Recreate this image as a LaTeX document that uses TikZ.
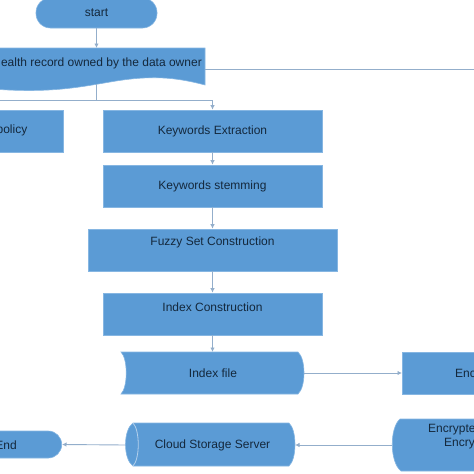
\documentclass[tikz,border=0pt]{standalone}
\usepackage{fontspec}
\setmainfont{Liberation Sans}
\usetikzlibrary{arrows.meta}
\definecolor{shapefill}{HTML}{5B9BD5}
\definecolor{shapeedge}{HTML}{86B6E2}
\definecolor{linecol}{HTML}{93AECB}
\definecolor{txtcol}{HTML}{14283C}
\definecolor{innerarc}{HTML}{B3D0EC}
\begin{document}
\begin{tikzpicture}[x=1pt,y=-1pt,
  every node/.style={font=\fontsize{12}{14}\selectfont, text=txtcol},
  box/.style={rectangle, fill=shapefill, draw=shapeedge, line width=0.6pt, inner sep=0pt},
  lbl/.style={inner sep=0pt},
  conn/.style={draw=linecol, line width=0.9pt},
  arr/.style={conn, -{Latex[length=4.5pt,width=4.5pt]}},
  shapepath/.style={fill=shapefill, draw=shapeedge, line width=0.6pt}]
\useasboundingbox (0,0) rectangle (474,474);

% start
\node[box, rounded corners=14.5pt, minimum width=121pt, minimum height=30pt] (start) at (96.5,13) {start};

% document shape
\path[shapepath] (-20,48) -- (205,48) -- (205,85)
  .. controls (175,77) and (150,75) .. (110,82)
  .. controls (75,88) and (45,94) .. (-20,88) -- cycle;
\node[lbl, anchor=east] (doc) at (202,63) {ealth record owned by the data owner};
\coordinate (docT) at (96.5,48);
\coordinate (docB) at (96.5,84);
\coordinate (docR) at (205,69);
\coordinate (rightend) at (480,69);
\coordinate (split) at (96.5,100);
\coordinate (leftend) at (-5,100);

% policy
\node[box, minimum width=93pt, minimum height=42pt] (policybox) at (16.5,131) {};
\node[lbl, anchor=east] (policy) at (27.5,130) {policy};

% main column
\node[box, minimum width=219pt, minimum height=42pt] (ke) at (212.5,131) {Keywords Extraction};
\node[box, minimum width=219pt, minimum height=42pt] (ks) at (212.5,186) {Keywords stemming};
\node[box, minimum width=249pt, minimum height=42pt] (fz) at (212.5,250) {};
\node[lbl] (fzt) at (212.5,242) {Fuzzy Set Construction};
\node[box, minimum width=219pt, minimum height=42pt] (ic) at (212.5,314) {};
\node[lbl] (ict) at (212.5,307) {Index Construction};

% index file (stored data)
\path[shapepath] (121,352) -- (298,352)
  .. controls (306,359) and (306,387) .. (298,394)
  -- (121,394)
  .. controls (128,387) and (128,359) .. (121,352) -- cycle;
\node[lbl] (idx) at (213,373) {Index file};
\coordinate (idxT) at (212.5,352);
\coordinate (idxR) at (304,373);

% Enc box
\node[box, minimum width=90pt, minimum height=42pt, anchor=west] (encbox) at (402,373) {};
\node[lbl, anchor=west] (enc) at (455,373) {Enc};

% Encrypted shape
\path[shapepath] (490,419) -- (400,419)
  .. controls (389.5,428) and (389.5,462) .. (401,471) -- (490,471) -- cycle;
\coordinate (encdL) at (392,445);
\node[lbl, anchor=west] (encd1) at (428,430) {Encrypte};
\node[lbl, anchor=west] (encd2) at (444,444) {Encry};

% cloud storage (direct data)
\path[shapepath] (133,423) -- (289,423)
  .. controls (297,430) and (297,459) .. (289,466)
  -- (133,466)
  .. controls (123,459) and (123,430) .. (133,423) -- cycle;
\draw[innerarc, line width=0.8pt] (133,423) .. controls (140,430) and (140,459) .. (133,466);
\node[lbl] (cloud) at (212.5,445) {Cloud Storage Server};
\coordinate (cloudR) at (295,445);
\coordinate (cloudL) at (125.5,445);

% End
\node[box, rounded corners=13.5pt, minimum width=102pt, minimum height=27pt, anchor=east] (endbox) at (62,444.5) {};
\node[lbl, anchor=east] (end) at (17,445) {End};

% connectors
\draw[arr] (start.south) -- (docT);
\draw[conn] (docB) -- (split);
\draw[conn] (split) -- (leftend);
\draw[arr] (split) -| (ke.north);
\draw[conn] (docR) -- (rightend);
\draw[arr] (ke.south) -- (ks.north);
\draw[arr] (ks.south) -- (fz.north);
\draw[arr] (fz.south) -- (ic.north);
\draw[arr] (ic.south) -- (idxT);
\draw[arr] (idxR) -- (encbox.west);
\draw[arr] (encdL) -- (cloudR);
\draw[arr] (cloudL) -- (endbox.east);
\end{tikzpicture}
\end{document}
